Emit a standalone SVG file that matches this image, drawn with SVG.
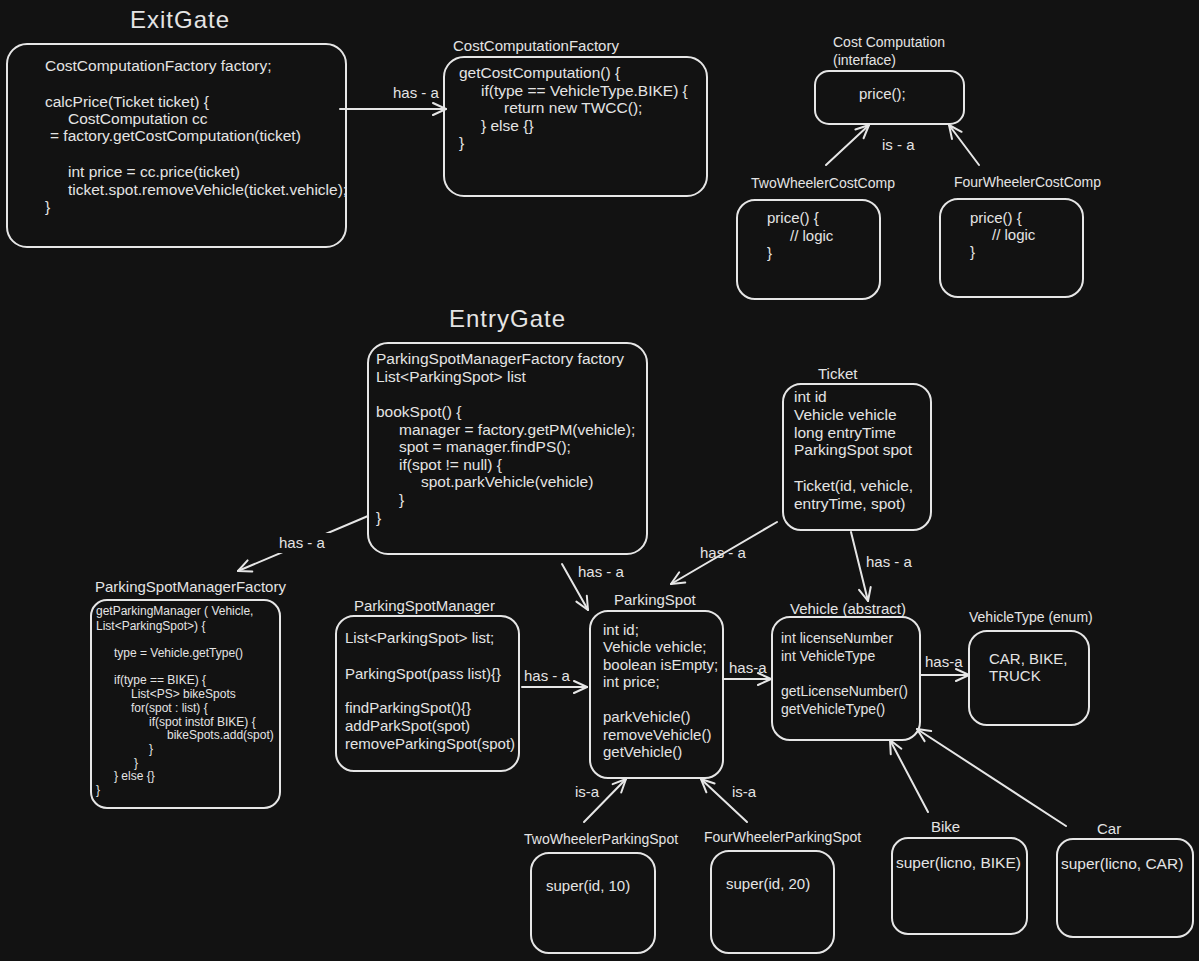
<svg xmlns="http://www.w3.org/2000/svg" width="1199" height="961" viewBox="0 0 1199 961">
<defs>
<style>
text{font-family:"Liberation Sans",Arial,sans-serif;fill:#e4e4e4;font-size:15px}
.title{font-size:24px;letter-spacing:1px}
.s{font-size:12px}
.m{font-size:14px}
.l{font-size:15.5px}
.box{fill:none;stroke:#e6e6e6;stroke-width:2}
.con{fill:none;stroke:#e6e6e6;stroke-width:2;stroke-linecap:round;marker-end:url(#ah)}
</style>
<marker id="ah" viewBox="0 0 16 16" refX="15" refY="8" markerWidth="16" markerHeight="16" markerUnits="userSpaceOnUse" orient="auto">
<path d="M2,2 L15,8 L2,14" fill="none" stroke="#e6e6e6" stroke-width="2" stroke-linecap="round" stroke-linejoin="round"/>
</marker>
</defs>
<rect x="0" y="0" width="1199" height="961" fill="#121212"/>

<g id="connectors">
<path class="con" d="M340,109 L446,109"/>
<text x="393" y="98">has - a</text>
<path class="con" d="M826,165 L869,125"/>
<path class="con" d="M979,165 L949,125"/>
<text x="882" y="150">is - a</text>
<path class="con" d="M368,516 L238,571"/>
<rect x="277" y="533" width="53" height="20" fill="#121212"/>
<text x="279" y="548">has - a</text>
<path class="con" d="M562,564 L588,610"/>
<text x="578" y="577">has - a</text>
<path class="con" d="M522,687 L587,687"/>
<text x="524" y="681">has - a</text>
<path class="con" d="M777,522 L671,584"/>
<text x="700" y="558">has - a</text>
<path class="con" d="M851,532 L868,601"/>
<text x="866" y="567">has - a</text>
<path class="con" d="M723,679 L771,679"/>
<text x="729" y="673">has-a</text>
<path class="con" d="M920,675 L969,675"/>
<text x="925" y="667">has-a</text>
<path class="con" d="M584,822 L626,779"/>
<text x="575" y="797">is-a</text>
<path class="con" d="M747,822 L701,779"/>
<text x="732" y="797">is-a</text>
<path class="con" d="M928,812 L890,740"/>
<path class="con" d="M1066,826 L917,729"/>
</g>

<g id="exit-gate">
<text class="title" x="130" y="28">ExitGate</text>
<rect class="box" x="7" y="44" width="339" height="203" rx="20"/>
<text class="l" x="45" y="71">CostComputationFactory factory;</text>
<text class="l" x="45" y="107">calcPrice(Ticket ticket) {</text>
<text class="l" x="68" y="124">CostComputation cc</text>
<text class="l" x="50" y="141">= factory.getCostComputation(ticket)</text>
<text class="l" x="68" y="177">int price = cc.price(ticket)</text>
<text class="l" x="68" y="195">ticket.spot.removeVehicle(ticket.vehicle);</text>
<text class="l" x="45" y="212">}</text>
</g>

<g id="cost-computation-factory">
<text x="453" y="51">CostComputationFactory</text>
<rect class="box" x="444" y="57" width="263" height="139" rx="20"/>
<text class="l" x="459" y="78">getCostComputation() {</text>
<text class="l" x="481" y="96">if(type == VehicleType.BIKE) {</text>
<text class="l" x="504" y="113">return new TWCC();</text>
<text class="l" x="481" y="131">} else {}</text>
<text class="l" x="459" y="148">}</text>
</g>

<g id="cost-computation">
<text class="m" x="833" y="47">Cost Computation</text>
<text class="m" x="833" y="65">(interface)</text>
<rect class="box" x="815" y="71" width="149" height="53" rx="14"/>
<text x="859" y="99">price();</text>
</g>

<g id="two-wheeler-cost-comp">
<text class="m" x="751" y="188">TwoWheelerCostComp</text>
<rect class="box" x="737" y="200" width="143" height="99" rx="18"/>
<text x="767" y="223">price() {</text>
<text x="790" y="241">// logic</text>
<text x="767" y="258">}</text>
</g>

<g id="four-wheeler-cost-comp">
<text class="m" x="954" y="187">FourWheelerCostComp</text>
<rect class="box" x="940" y="199" width="143" height="98" rx="18"/>
<text x="970" y="223">price() {</text>
<text x="992" y="240">// logic</text>
<text x="970" y="257">}</text>
</g>

<g id="entry-gate">
<text class="title" x="449" y="327">EntryGate</text>
<rect class="box" x="368" y="343" width="279" height="211" rx="20"/>
<text class="l" x="376" y="364">ParkingSpotManagerFactory factory</text>
<text class="l" x="376" y="382">List&lt;ParkingSpot&gt; list</text>
<text class="l" x="376" y="417">bookSpot() {</text>
<text class="l" x="399" y="435">manager = factory.getPM(vehicle);</text>
<text class="l" x="399" y="452">spot = manager.findPS();</text>
<text class="l" x="399" y="470">if(spot != null) {</text>
<text class="l" x="421" y="487">spot.parkVehicle(vehicle)</text>
<text class="l" x="399" y="505">}</text>
<text class="l" x="376" y="523">}</text>
</g>

<g id="parking-spot-manager-factory">
<text x="95" y="592">ParkingSpotManagerFactory</text>
<rect class="box" x="91" y="600" width="189" height="208" rx="16"/>
<text class="s" x="96" y="615">getParkingManager ( Vehicle,</text>
<text class="s" x="96" y="630">List&lt;ParkingSpot&gt;) {</text>
<text class="s" x="114" y="657">type = Vehicle.getType()</text>
<text class="s" x="114" y="684">if(type == BIKE) {</text>
<text class="s" x="131" y="698">List&lt;PS&gt; bikeSpots</text>
<text class="s" x="131" y="712">for(spot : list) {</text>
<text class="s" x="149" y="726">if(spot instof BIKE) {</text>
<text class="s" x="167" y="739">bikeSpots.add(spot)</text>
<text class="s" x="149" y="753">}</text>
<text class="s" x="134" y="767">}</text>
<text class="s" x="114" y="780">} else {}</text>
<text class="s" x="96" y="794">}</text>
</g>

<g id="parking-spot-manager">
<text x="354" y="611">ParkingSpotManager</text>
<rect class="box" x="336" y="616" width="183" height="155" rx="18"/>
<text x="345" y="643">List&lt;ParkingSpot&gt; list;</text>
<text x="345" y="679">ParkingSpot(pass list){}</text>
<text x="345" y="713">findParkingSpot(){}</text>
<text x="345" y="731">addParkSpot(spot)</text>
<text x="345" y="749">removeParkingSpot(spot)</text>
</g>

<g id="parking-spot">
<text x="614" y="605">ParkingSpot</text>
<rect class="box" x="590" y="611" width="133" height="167" rx="18"/>
<text x="603" y="635">int id;</text>
<text x="603" y="652">Vehicle vehicle;</text>
<text x="603" y="670">boolean isEmpty;</text>
<text x="603" y="687">int price;</text>
<text x="603" y="722">parkVehicle()</text>
<text x="603" y="740">removeVehicle()</text>
<text x="603" y="757">getVehicle()</text>
</g>

<g id="ticket">
<text x="818" y="379">Ticket</text>
<rect class="box" x="783" y="384" width="148" height="146" rx="18"/>
<text class="l" x="794" y="402">int id</text>
<text class="l" x="794" y="420">Vehicle vehicle</text>
<text class="l" x="794" y="438">long entryTime</text>
<text class="l" x="794" y="455">ParkingSpot spot</text>
<text class="l" x="794" y="491">Ticket(id, vehicle,</text>
<text class="l" x="794" y="509">entryTime, spot)</text>
</g>

<g id="vehicle">
<text x="790" y="614">Vehicle (abstract)</text>
<rect class="box" x="772" y="617" width="148" height="123" rx="18"/>
<text class="m" x="781" y="643">int licenseNumber</text>
<text class="m" x="781" y="661">int VehicleType</text>
<text class="m" x="781" y="696">getLicenseNumber()</text>
<text class="m" x="781" y="714">getVehicleType()</text>
</g>

<g id="vehicle-type">
<text class="m" x="969" y="622">VehicleType (enum)</text>
<rect class="box" x="969" y="631" width="120" height="94" rx="18"/>
<text x="989" y="664">CAR, BIKE,</text>
<text x="989" y="681">TRUCK</text>
</g>

<g id="two-wheeler-parking-spot">
<text class="m" x="524" y="844">TwoWheelerParkingSpot</text>
<rect class="box" x="531" y="853" width="124" height="100" rx="18"/>
<text x="546" y="891">super(id, 10)</text>
</g>

<g id="four-wheeler-parking-spot">
<text class="m" x="704" y="842">FourWheelerParkingSpot</text>
<rect class="box" x="711" y="851" width="123" height="102" rx="18"/>
<text x="726" y="889">super(id, 20)</text>
</g>

<g id="bike">
<text x="931" y="832">Bike</text>
<rect class="box" x="892" y="838" width="135" height="96" rx="16"/>
<text class="l" x="896" y="868">super(licno, BIKE)</text>
</g>

<g id="car">
<text x="1097" y="834">Car</text>
<rect class="box" x="1057" y="839" width="136" height="98" rx="16"/>
<text class="l" x="1061" y="869">super(licno, CAR)</text>
</g>
</svg>
